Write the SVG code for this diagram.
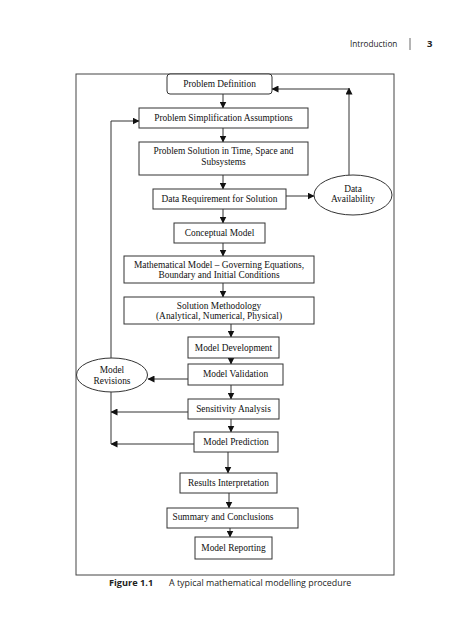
<svg xmlns="http://www.w3.org/2000/svg" width="474" height="632" viewBox="0 0 474 632">
<defs>
<marker id="ah" markerWidth="7" markerHeight="7" refX="6.5" refY="3.5" orient="auto" markerUnits="userSpaceOnUse">
<path d="M0,0 L7,3.5 L0,7 Z" fill="#111"/>
</marker>
<style>
.b{fill:#fff;stroke:#333;stroke-width:1}
.t{font-family:"Liberation Serif","Times New Roman",serif;font-size:9.4px;fill:#111;text-anchor:middle}
.c{fill:none;stroke:#333;stroke-width:1;marker-end:url(#ah)}
.l{fill:none;stroke:#333;stroke-width:1}
.s{font-family:"Open Sans","Liberation Sans",sans-serif;fill:#222}
</style>
</defs>
<rect width="474" height="632" fill="#fff"/>
<g id="header">
<text class="s" x="350" y="47" font-size="8.2">Introduction</text>
<line x1="410" y1="38" x2="410" y2="50" stroke="#444" stroke-width="0.8"/>
<text class="s" x="427" y="47" font-size="9.5" font-weight="bold">3</text>
</g>
<rect id="frame" x="76" y="74" width="318" height="501" fill="none" stroke="#444" stroke-width="1"/>
<g id="connectors">
<line class="c" x1="223" y1="94" x2="223" y2="108"/>
<line class="c" x1="223" y1="128" x2="223" y2="142"/>
<line class="c" x1="223" y1="175" x2="223" y2="189"/>
<line class="c" x1="223" y1="209" x2="223" y2="223"/>
<line class="c" x1="223" y1="243" x2="223" y2="256"/>
<line class="c" x1="223" y1="283" x2="223" y2="297"/>
<line class="c" x1="231" y1="324" x2="231" y2="337"/>
<line class="c" x1="231" y1="358" x2="231" y2="364"/>
<line class="c" x1="231" y1="385" x2="231" y2="399"/>
<line class="c" x1="231" y1="419" x2="231" y2="432"/>
<line class="c" x1="228" y1="452" x2="228" y2="473"/>
<line class="c" x1="229" y1="493" x2="229" y2="508"/>
<line class="c" x1="230" y1="528" x2="230" y2="537"/>
<line class="c" x1="286" y1="196" x2="314" y2="196"/>
<line class="c" x1="349" y1="175" x2="349" y2="88"/>
<line class="c" x1="349" y1="89" x2="272" y2="89"/>
<line class="c" x1="188" y1="379" x2="148" y2="379"/>
<polyline class="c" points="111,358 111,121 139,121"/>
<line class="l" x1="111" y1="392" x2="111" y2="444"/>
<line class="c" x1="188" y1="412" x2="111" y2="412"/>
<line class="c" x1="194" y1="444" x2="111" y2="444"/>
</g>
<g id="problem-definition"><rect class="b" x="167" y="74" width="105" height="20" rx="3"/><text class="t" x="219.5" y="87">Problem Definition</text></g>
<g id="simplification"><rect class="b" x="139" y="108" width="169" height="20"/><text class="t" x="223.5" y="121">Problem Simplification Assumptions</text></g>
<g id="solution-time"><rect class="b" x="139" y="142" width="169" height="33"/><text class="t" x="223.5" y="154">Problem Solution in Time, Space and</text><text class="t" x="223.5" y="164.5">Subsystems</text></g>
<g id="data-requirement"><rect class="b" x="153" y="189" width="133" height="20"/><text class="t" x="219.5" y="202">Data Requirement for Solution</text></g>
<g id="data-availability"><ellipse class="b" cx="353" cy="195" rx="39" ry="20"/><text class="t" x="353" y="192">Data</text><text class="t" x="353" y="202">Availability</text></g>
<g id="conceptual-model"><rect class="b" x="174" y="223" width="91" height="20"/><text class="t" x="219.5" y="236">Conceptual Model</text></g>
<g id="mathematical-model"><rect class="b" x="124" y="256" width="190" height="27"/><text class="t" x="219" y="268">Mathematical Model – Governing Equations,</text><text class="t" x="219" y="278">Boundary and Initial Conditions</text></g>
<g id="solution-methodology"><rect class="b" x="124" y="297" width="190" height="27"/><text class="t" x="219" y="309">Solution Methodology</text><text class="t" x="219" y="319">(Analytical, Numerical, Physical)</text></g>
<g id="model-development"><rect class="b" x="188" y="337" width="91" height="21"/><text class="t" x="233.5" y="350.5">Model Development</text></g>
<g id="model-validation"><rect class="b" x="188" y="364" width="95" height="21"/><text class="t" x="235.5" y="377">Model Validation</text></g>
<g id="model-revisions"><ellipse class="b" cx="112" cy="375" rx="35.5" ry="17"/><text class="t" x="112" y="373">Model</text><text class="t" x="112" y="384">Revisions</text></g>
<g id="sensitivity-analysis"><rect class="b" x="188" y="399" width="91" height="20"/><text class="t" x="233.5" y="411.5">Sensitivity Analysis</text></g>
<g id="model-prediction"><rect class="b" x="194" y="432" width="84" height="20"/><text class="t" x="236" y="444.5">Model Prediction</text></g>
<g id="results-interpretation"><rect class="b" x="180" y="473" width="97" height="20"/><text class="t" x="228.5" y="485.5">Results Interpretation</text></g>
<g id="summary"><rect class="b" x="167" y="508" width="131" height="20"/><text class="t" x="223" y="520">Summary and Conclusions</text></g>
<g id="model-reporting"><rect class="b" x="195" y="537" width="77" height="22"/><text class="t" x="233.5" y="550.5">Model Reporting</text></g>
<g id="caption">
<text class="s" x="109" y="586" font-size="9.2" font-weight="bold">Figure 1.1</text>
<text class="s" x="169" y="586" font-size="8.9">A typical mathematical modelling procedure</text>
</g>
</svg>
